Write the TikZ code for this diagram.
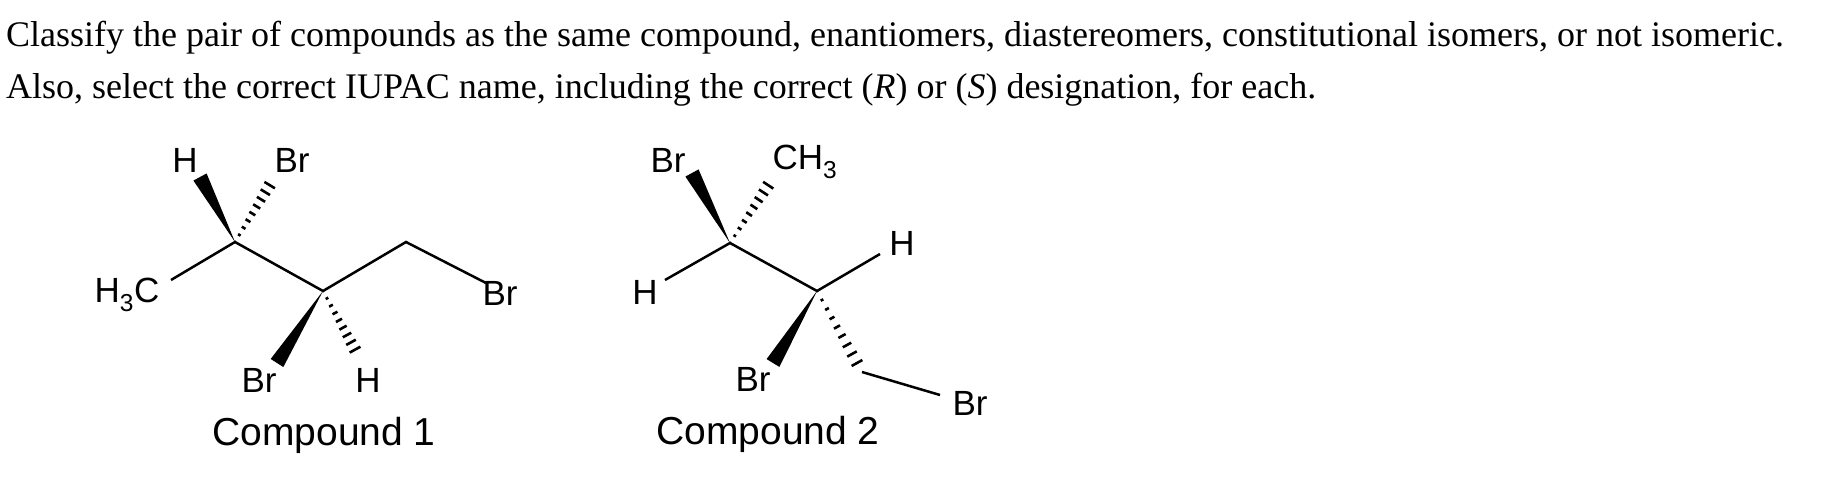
\documentclass[tikz,border=0pt]{standalone}
\usepackage{fontspec}
\setmainfont{Liberation Serif}
\newfontfamily\chemfont{Liberation Sans}
\usetikzlibrary{calc}
\tikzset{
  atom/.style={font=\chemfont\fontsize{35}{35}\selectfont, inner sep=0pt},
  captext/.style={font=\chemfont\fontsize{39}{39}\selectfont, inner sep=0pt},
  bond/.style={line width=2.5pt},
  headline/.style={font=\fontsize{36}{42}\selectfont, anchor=west, inner sep=0pt}
}
\newcommand{\wedgebond}[2]{\fill (#1) -- ($(#2)!7.5pt!90:(#1)$) -- ($(#2)!7.5pt!-90:(#1)$) -- cycle;}
\newcommand{\hashbond}[2]{%
  \foreach \i in {0,...,9}{%
    \pgfmathsetmacro\f{\i/9}\pgfmathsetmacro\w{0.8+6*\f}%
    \coordinate (hp) at ($(#1)!\f!(#2)$);
    \draw[line width=2.6pt] ($(hp)!\w pt!90:(#2)$) -- ($(hp)!\w pt!-90:(#2)$);}}
\begin{document}
\begin{tikzpicture}[x=1pt,y=-1pt]
\useasboundingbox (0,0) rectangle (1846,484);
\node[headline] (l1) at (6,38) {Classify the pair of compounds as the same compound, enantiomers, diastereomers, constitutional isomers, or not isomeric.};
\node[headline] (l2) at (6,90) {Also, select the correct IUPAC name, including the correct (\textit{R}) or (\textit{S}) designation, for each.};
% Compound 1
\coordinate (a2) at (235,242); \coordinate (a3) at (323,291); \coordinate (a4) at (406,242);
\coordinate (a1e) at (171,280); \coordinate (abre) at (486,283);
\coordinate (aHt) at (200,177); \coordinate (aBrt) at (274,178);
\coordinate (aBrb) at (277,363); \coordinate (aHb) at (359,357);
\node[atom] (aCH3) at (127,295) {H\textsubscript{3}C};
\node[atom] (aBrr) at (500,293) {Br};
\node[atom] (aH1) at (185,160) {H};
\node[atom] (aBr1) at (292,160) {Br};
\node[atom] (aBr2) at (259,380) {Br};
\node[atom] (aH2) at (368,380) {H};
\node[captext] (c1) at (324,435) {Compound 1};
\draw[bond] (a1e) -- (a2) -- (a3) -- (a4) -- (abre);
\wedgebond{a2}{aHt}
\hashbond{a2}{aBrt}
\wedgebond{a3}{aBrb}
\hashbond{a3}{aHb}
% Compound 2
\coordinate (b2) at (730,243); \coordinate (b3) at (817,291);
\coordinate (bHle) at (665,280); \coordinate (bHre) at (880,254);
\coordinate (bBrt) at (692,173); \coordinate (bCH3e) at (773,178);
\coordinate (bBrb) at (773,363); \coordinate (bCH2) at (862,372);
\coordinate (bBre) at (940,395);
\node[atom] (bH1) at (645,292) {H};
\node[atom] (bBr1) at (668,160) {Br};
\node[atom] (bCH3) at (805,162) {CH\textsubscript{3}};
\node[atom] (bH2) at (902,243) {H};
\node[atom] (bBr2) at (753,379) {Br};
\node[atom] (bBr3) at (970,403) {Br};
\node[captext] (c2) at (768,434) {Compound 2};
\draw[bond] (bHle) -- (b2) -- (b3) -- (bHre);
\draw[bond] (bCH2) -- (bBre);
\wedgebond{b2}{bBrt}
\hashbond{b2}{bCH3e}
\wedgebond{b3}{bBrb}
\hashbond{b3}{bCH2}
\end{tikzpicture}
\end{document}
